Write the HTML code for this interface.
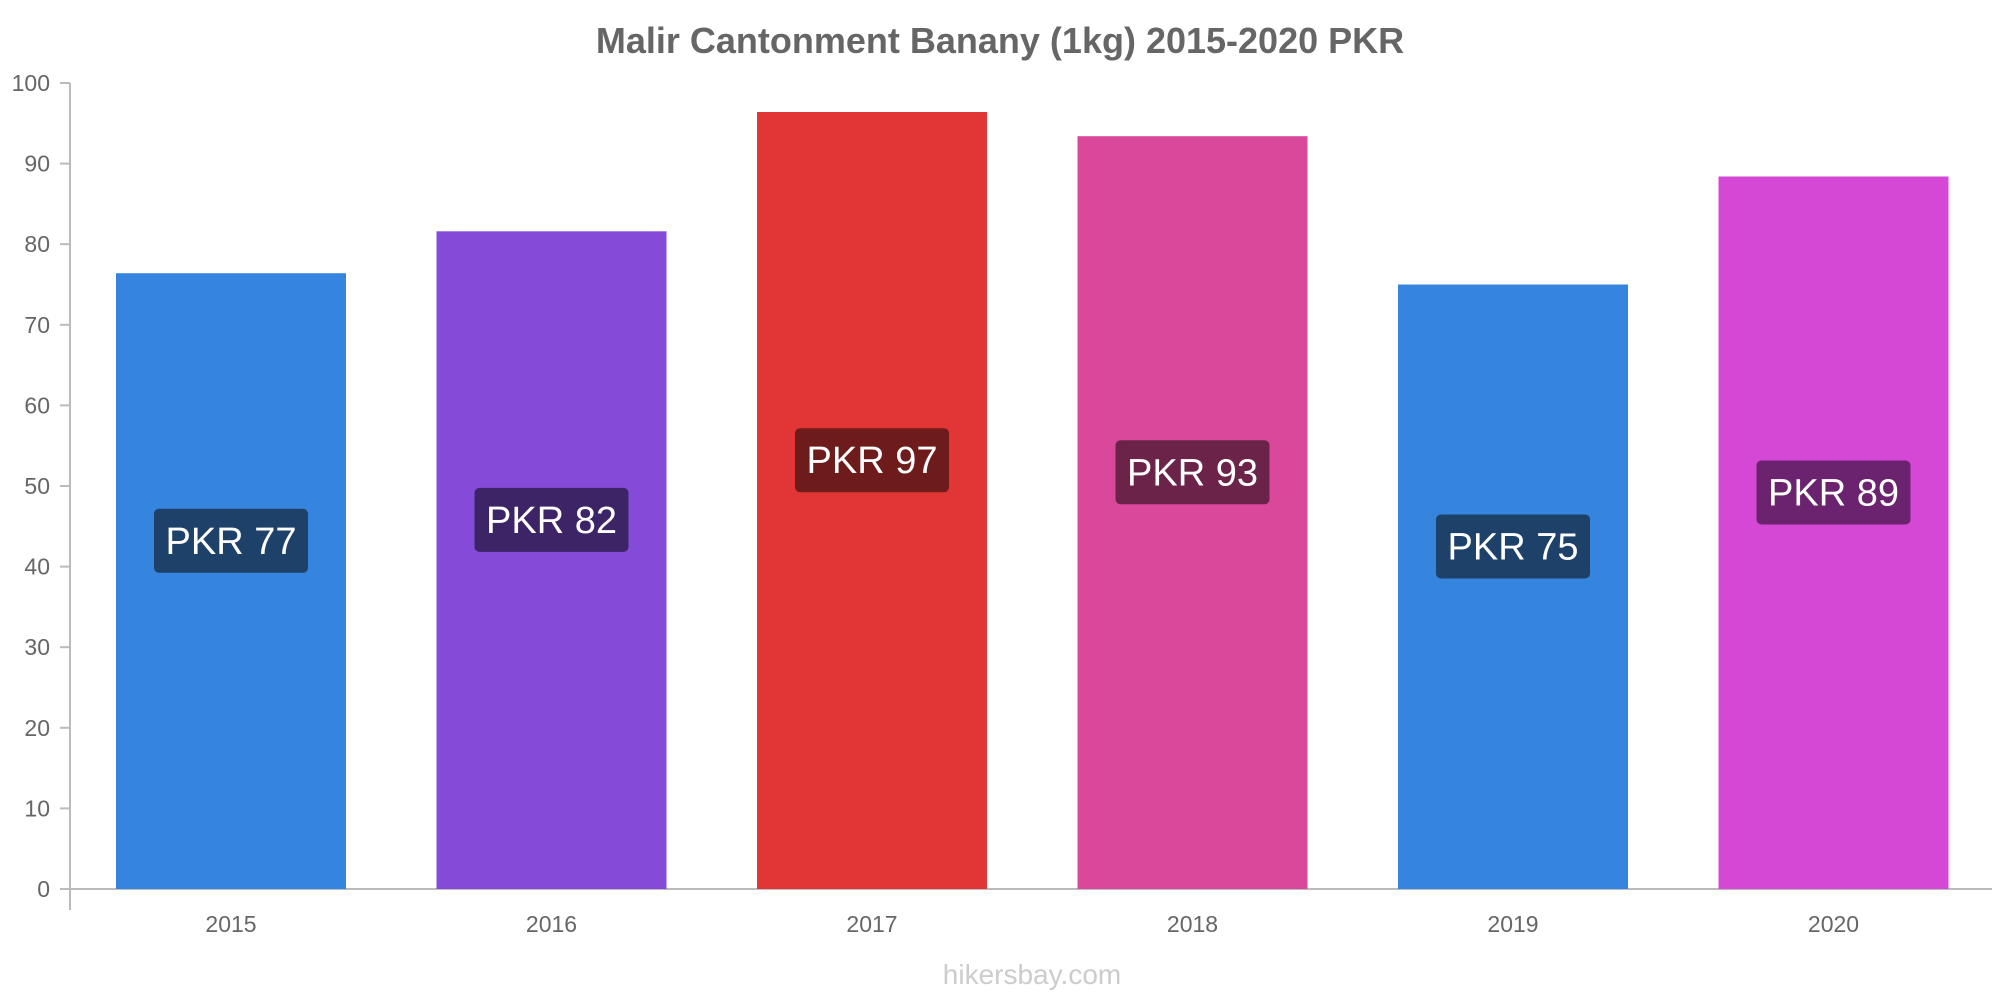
<!DOCTYPE html>
<html><head><meta charset="utf-8"><style>
body{margin:0;background:#fff;}
svg text{font-family:"Liberation Sans",sans-serif;}
</style></head><body>
<svg width="2000" height="1000" viewBox="0 0 2000 1000">
<text x="1000" y="53" text-anchor="middle" font-size="36" font-weight="bold" fill="#666">Malir Cantonment Banany (1kg) 2015-2020 PKR</text>
<g id="grid"></g>
<line x1="70" y1="83" x2="70" y2="910" stroke="#bbb" stroke-width="2"/>
<line x1="60" y1="889" x2="1992" y2="889" stroke="#bbb" stroke-width="2"/>
<g id="bars"></g>
<text x="1032" y="984" text-anchor="middle" font-size="28" fill="#ccc">hikersbay.com</text>
</svg>
<script>
const categories=["2015","2016","2017","2018","2019","2020"];
const values=[76.4,81.6,96.4,93.4,75.0,88.4];
const labels=["PKR 77","PKR 82","PKR 97","PKR 93","PKR 75","PKR 89"];
const yTicks=[0,10,20,30,40,50,60,70,80,90,100];
const colors=["#3584de","#854bd8","#e23636","#d9489b","#3584de","#d548d5"];
const labelBg=["#1e416a","#3d2466","#6e1b1b","#6b2349","#1e416a","#6b2370"];
const NS="http://www.w3.org/2000/svg";
const y=v=>889-(v/100)*806;
const xc=i=>231+i*320.5;
const g=document.getElementById('grid'),b=document.getElementById('bars');
function mk(tag,attrs,parent){const e=document.createElementNS(NS,tag);for(const k in attrs)e.setAttribute(k,attrs[k]);parent.appendChild(e);return e;}
yTicks.forEach(t=>{
 const tl=mk('text',{x:50,y:y(t)+8,'text-anchor':'end','font-size':23,fill:'#666'},g);
 
 
 tl.textContent=t;
 const tk=mk('line',{x1:60,x2:70,y1:y(t),y2:y(t),stroke:'#bbb','stroke-width':2},g);
 
 
});
categories.forEach((c,i)=>{
 const r=mk('rect',{x:xc(i)-115,y:y(values[i]),width:230,height:889-y(values[i]),fill:colors[i]},b);
 
 
 const ly=y(values[i]/2+5);
 const bg=mk('rect',{x:xc(i)-77,y:ly-32,width:154,height:64,rx:5,fill:labelBg[i]},b);
 
 
 const t=mk('text',{x:xc(i),y:ly+13,'text-anchor':'middle','font-size':38,fill:'#fff'},b);
 
 
 t.textContent=labels[i];
 const xl=mk('text',{x:xc(i),y:932,'text-anchor':'middle','font-size':23,fill:'#666'},b);
 
 
 xl.textContent=c;
});
</script>
</body></html>
